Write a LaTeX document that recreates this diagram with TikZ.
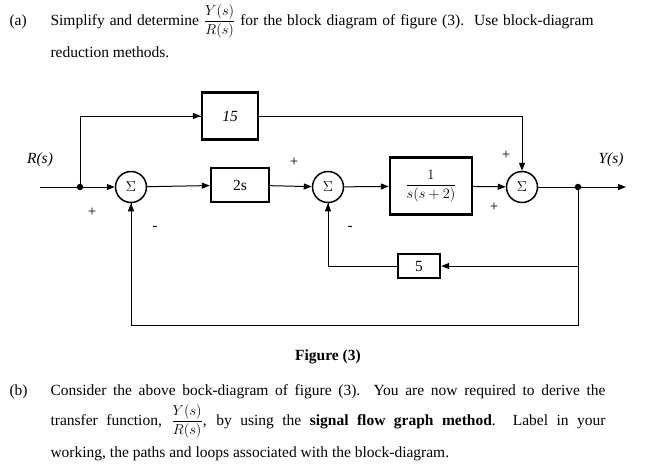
\documentclass[tikz,border=0pt]{standalone}
\usepackage{amsmath}
\usepackage{fontspec}
\setmainfont{Liberation Serif}
\usetikzlibrary{positioning,arrows.meta}

\begin{document}
\begin{tikzpicture}[
  x=1pt,y=-1pt,
  font=\fontsize{15.5}{17}\selectfont,
  block/.style={draw,line width=2.4pt,rectangle,inner sep=0pt},
  summer/.style={draw,line width=1.5pt,circle,minimum size=31pt,inner sep=0pt},
  sgn/.style={font=\fontsize{15}{16}\selectfont},
  dot/.style={fill,circle,inner sep=0pt,minimum size=6.5pt},
  every edge/.style={draw,line width=1pt,-{Triangle[length=8pt,width=6pt]}},
]
  \useasboundingbox (0,0) rectangle (655,472);

  % Question (a)
  \node[anchor=base west] (qa) at (6,25) {(a)};
  \node[anchor=base west] (qa1) at (47,25) {\makebox[543pt][s]{Simplify and determine $\dfrac{Y(s)}{R(s)}$ for the block diagram of figure (3).\ \ Use block-diagram}};
  \node[anchor=base west] (qa2) at (47,57) {reduction methods.};

  % Blocks and summers
  \node[summer] (s1) at (131,187) {$\Sigma$};
  \node[block,minimum width=56pt,minimum height=47pt] (g15) at (230,116) {\textit{15}};
  \node[block,minimum width=58pt,minimum height=34pt] (g2s) at (240,185) {2s};
  \node[summer] (s2) at (328,187) {$\Sigma$};
  \node[block,minimum width=82pt,minimum height=57pt] (gp) at (431,186) {$\dfrac{1}{s(s+2)}$};
  \node[summer] (s3) at (522,187) {$\Sigma$};
  \node[block,minimum width=42pt,minimum height=24pt] (g5) at (419,266) {5};

  % Branch points and ends
  \coordinate (in) at (40,187);
  \node[dot] (b1) at (80,187) {};
  \node[dot] (b2) at (578,187) {};
  \coordinate (out) at (626,187);
  \coordinate (c5) at (578,266);
  \coordinate (cb) at (578,325);

  % Labels
  \node (R) at (40,160) {\textit{R(s)}};
  \node (Y) at (611,160) {\textit{Y(s)}};
  \node[sgn] at (92,212) {+};
  \node[sgn] at (155,228) {-};
  \node[sgn] at (294,162) {+};
  \node[sgn] at (350,228) {-};
  \node[sgn] at (506,155) {+};
  \node[sgn] at (494,207) {+};

  % Forward path
  \draw[line width=1pt] (in) -- (b1);
  \path (b1) edge (s1);
  \path (s1) edge (g2s);
  \path (g2s) edge (s2);
  \path (s2) edge (gp);
  \path (gp) edge (s3);
  \draw[line width=1pt] (s3) -- (b2);
  \path (b2) edge (out);

  % Feedforward through 15
  \draw[line width=1pt] (b1) |- (g15.west);
  \path (b1 |- g15.west) edge (g15.west);
  \draw[line width=1pt] (g15.east) -- (g15.east -| s3);
  \path (g15.east -| s3) edge (s3);

  % Feedback loops
  \draw[line width=1pt] (b2) -- (cb) -| (s1.south);
  \path (s1.south |- cb) edge (s1);
  \path (c5) edge (g5);
  \draw[line width=1pt] (g5.west) -| (s2.south);
  \path (g5.west -| s2) edge (s2);

  \node[font=\bfseries\fontsize{15.5}{17}\selectfont] (fig) at (328,357) {Figure (3)};

  % Question (b)
  \node[anchor=base west] (qb) at (6,395) {(b)};
  \node[anchor=base west] (qb1) at (47,395) {\makebox[555pt][s]{Consider the above bock-diagram of figure (3).\ \ You are now required to derive the}};
  \node[anchor=base west] (qb2) at (47,425) {\makebox[555pt][s]{transfer function, $\dfrac{Y(s)}{R(s)}$, by using the \textbf{signal flow graph method}.\ \ Label in your}};
  \node[anchor=base west] (qb3) at (47,457) {working, the paths and loops associated with the block-diagram.};
\end{tikzpicture}
\end{document}
